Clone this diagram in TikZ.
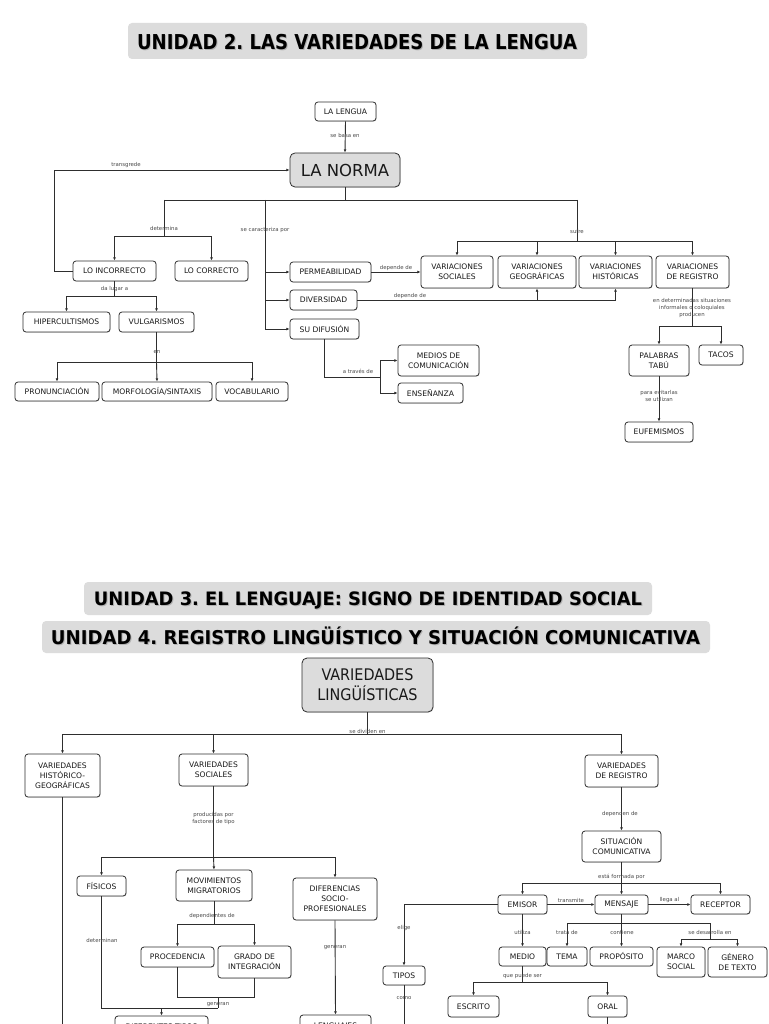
\documentclass[tikz,border=0pt]{standalone}
\usepackage{fontspec}
\setmainfont{DejaVu Sans}
\newfontfamily\condfont{DejaVu Sans Condensed}
\usetikzlibrary{arrows.meta,shadows}
\definecolor{boxfill}{HTML}{DCDCDC}
\definecolor{linec}{HTML}{2E2E2E}
\definecolor{labc}{HTML}{4A4A4A}
\frenchspacing
\tikzset{
  sz/.style 2 args={minimum width=#1pt, minimum height=#2pt},
  box/.style={draw=linec, line width=0.8pt, rounded corners=3pt, fill=white,
    align=center, inner sep=1pt, font=\fontsize{7.6}{10}\selectfont, text=black!90,
    drop shadow={shadow xshift=0.6pt, shadow yshift=-0.6pt, fill=black!35}},
  bigbox/.style={box, fill=boxfill, rounded corners=5pt},
  conn/.style={draw=linec, line width=0.9pt},
  arr/.style={conn, -{Latex[length=3.2pt,width=2.8pt]}},
  lab/.style={font=\fontsize{5.4}{7}\selectfont, text=labc, align=center, inner sep=0pt},
  titlebox/.style={fill=boxfill, rounded corners=4pt},
}
\newcommand{\mytitle}[6]{%
  \node[anchor=base, inner sep=0pt, text=black!30, font=\fontsize{#4}{#4}\selectfont\bfseries] (#6s) at (#1+1,#2+1) {\resizebox{#3pt}{\height}{#5}};
  \node[anchor=base, inner sep=0pt, text=black, font=\fontsize{#4}{#4}\selectfont\bfseries] (#6) at (#1,#2) {\resizebox{#3pt}{\height}{#5}};}
\begin{document}
\frenchspacing
\begin{tikzpicture}[x=1pt,y=-1pt]
\useasboundingbox (0,0) rectangle (768,1024);
\clip (0,0) rectangle (768,1024);
\fill[white] (0,0) rectangle (768,1024);

% ---------- titles ----------
\fill[titlebox] (128,23) rectangle (587,59);
\mytitle{357}{50}{440}{20.5}{UNIDAD 2. LAS VARIEDADES DE LA LENGUA}{tdos}
\fill[titlebox] (84,582) rectangle (652,615);
\mytitle{368}{605}{548}{18.5}{UNIDAD 3. EL LENGUAJE: SIGNO DE IDENTIDAD SOCIAL}{ttres}
\fill[titlebox] (42,621) rectangle (710,653);
\mytitle{375.5}{644}{649}{19}{UNIDAD 4. REGISTRO LINGÜÍSTICO Y SITUACIÓN COMUNICATIVA}{tcuatro}

% ---------- top map nodes ----------
\node[box, sz={61}{19}] (lengua) at (345.5,111.5) {LA LENGUA};
\node[bigbox, sz={110}{34}, font=\fontsize{16.5}{18}\selectfont] (norma) at (345,170) {LA NORMA};
\node[box, sz={83}{20}] (incorrecto) at (114.5,271) {LO INCORRECTO};
\node[box, sz={73}{20}] (correcto) at (211.5,271) {LO CORRECTO};
\node[box, sz={87}{20}] (hiper) at (66.5,322) {HIPERCULTISMOS};
\node[box, sz={75}{20}] (vulgar) at (156.5,322) {VULGARISMOS};
\node[box, sz={84}{19}] (pron) at (57,391.5) {PRONUNCIACIÓN};
\node[box, sz={110}{19}] (morf) at (157,391.5) {MORFOLOGÍA/SINTAXIS};
\node[box, sz={72}{19}] (vocab) at (252,391.5) {VOCABULARIO};
\node[box, sz={81}{20}] (perm) at (330.5,272) {PERMEABILIDAD};
\node[box, sz={67}{20}] (divers) at (323.5,300) {DIVERSIDAD};
\node[box, sz={69}{20}] (difus) at (324.5,329) {SU DIFUSIÓN};
\node[box, sz={72}{32}] (vsoc) at (457,272) {VARIACIONES\\SOCIALES};
\node[box, sz={78}{32}] (vgeo) at (537,272) {VARIACIONES\\GEOGRÁFICAS};
\node[box, sz={73}{32}] (vhist) at (615.5,272) {VARIACIONES\\HISTÓRICAS};
\node[box, sz={73}{32}] (vreg) at (692.5,272) {VARIACIONES\\DE REGISTRO};
\node[box, sz={81}{31}] (medios) at (438.5,360.5) {MEDIOS DE\\COMUNICACIÓN};
\node[box, sz={65}{20}] (ense) at (430.5,393) {ENSEÑANZA};
\node[box, sz={60}{31}] (tabu) at (659,360.5) {PALABRAS\\TABÚ};
\node[box, sz={44}{20}] (tacos) at (721,355) {TACOS};
\node[box, sz={68}{20}] (eufem) at (659,432) {EUFEMISMOS};

% ---------- top map junctions ----------
\coordinate (jn) at (345,200);
\coordinate (jdet) at (164,200);
\coordinate (jcar) at (265,200);
\coordinate (jsuf) at (577,200);
\coordinate (jdet2) at (164,236);
\coordinate (jsuf2) at (577,241);
\coordinate (jcar2) at (265,329);
\coordinate (jtrans) at (54,271);
\coordinate (jlug) at (114.5,296);
\coordinate (jen) at (156.5,362);
\coordinate (jdif) at (324.5,377);
\coordinate (jtra) at (380,377);
\coordinate (jtra1) at (380,360.5);
\coordinate (jtra2) at (380,393);
\coordinate (jreg) at (692.5,326);

% ---------- top map connectors ----------
\draw[arr] (lengua.south) -- (norma.north);
\node[lab] (l1) at (345,135) {se basa en};
\draw[conn] (norma.south) -- (jn);
\draw[conn] (jdet) -- (jsuf);
\draw[conn] (jdet) -- (jdet2);
\draw[arr] (jdet2) -| (incorrecto.north);
\draw[arr] (jdet2) -| (correcto.north);
\node[lab] (l2) at (164,228) {determina};
\draw[arr] (incorrecto.west) -- (jtrans) |- (norma.west);
\node[lab] (l3) at (126,165) {transgrede};
\draw[conn] (jsuf) -- (jsuf2);
\draw[arr] (jsuf2) -| (vsoc.north);
\draw[arr] (jsuf2) -| (vgeo.north);
\draw[arr] (jsuf2) -| (vhist.north);
\draw[arr] (jsuf2) -| (vreg.north);
\node[lab] (l4) at (577,231) {sufre};
\draw[conn] (jcar) -- (jcar2);
\draw[arr] (jcar |- perm.west) -- (perm.west);
\draw[arr] (jcar |- divers.west) -- (divers.west);
\draw[arr] (jcar2) -- (difus.west);
\node[lab] (l5) at (265,230) {se caracteriza por};
\draw[arr] (perm.east) -- node[lab, above=1pt] (l6) {depende de} (vsoc.west);
\draw[conn] (divers.east) -- (vhist.south |- divers.east);
\draw[arr] (vgeo.south |- divers.east) -- (vgeo.south);
\draw[arr] (vhist.south |- divers.east) -- (vhist.south);
\node[lab] (l7) at (410,296) {depende de};
\draw[conn] (incorrecto.south) -- (jlug);
\draw[arr] (jlug) -| (hiper.north);
\draw[arr] (jlug) -| (vulgar.north);
\node[lab] (l8) at (114.5,289) {da lugar a};
\draw[conn] (vulgar.south) -- (jen);
\draw[arr] (jen) -| (pron.north);
\draw[arr] (jen) -- (morf.north);
\draw[arr] (jen) -| (vocab.north);
\node[lab] (l9) at (157,352) {en};
\draw[conn] (difus.south) -- (jdif) -- (jtra);
\draw[conn] (jtra1) -- (jtra2);
\draw[arr] (jtra1) -- (medios.west);
\draw[arr] (jtra2) -- (ense.west);
\node[lab] (l10) at (358,371) {a través de};
\draw[conn] (vreg.south) -- (jreg);
\draw[arr] (jreg) -| (tabu.north);
\draw[arr] (jreg) -| (tacos.north);
\node[lab] (l11) at (692,308) {en determinadas situaciones\\informales o coloquiales\\producen};
\draw[arr] (tabu.south) -- (eufem.north);
\node[lab] (l12) at (659,396) {para evitarlas\\se utilizan};

% ---------- bottom map nodes ----------
\node[bigbox, sz={131}{54}, font=\condfont\fontsize{16}{20}\selectfont] (vling) at (367.5,685) {VARIEDADES\\LINGÜÍSTICAS};
\node[box, sz={75}{43}] (hgeo) at (62.5,775.5) {VARIEDADES\\HISTÓRICO-\\GEOGRÁFICAS};
\node[box, sz={69}{32}] (vsocb) at (213.5,770) {VARIEDADES\\SOCIALES};
\node[box, sz={73}{32}] (vregb) at (621.5,771) {VARIEDADES\\DE REGISTRO};
\node[box, sz={49}{20}] (fisicos) at (101.5,886) {FÍSICOS};
\node[box, sz={76}{31}] (movim) at (214,885.5) {MOVIMIENTOS\\MIGRATORIOS};
\node[box, sz={84}{42}] (difer) at (335,899) {DIFERENCIAS\\SOCIO-\\PROFESIONALES};
\node[box, sz={73}{20}] (proced) at (177.5,957) {PROCEDENCIA};
\node[box, sz={73}{32}] (grado) at (254.5,962) {GRADO DE\\INTEGRACIÓN};
\node[box, sz={93}{22}] (dtipos) at (161.5,1027) {DIFERENTES TIPOS};
\node[box, sz={71}{22}] (lenguajes) at (335.5,1026) {LENGUAJES};
\node[box, sz={79}{31}] (sitcom) at (621.5,846.5) {SITUACIÓN\\COMUNICATIVA};
\node[box, sz={49}{19}] (emisor) at (522.5,904.5) {EMISOR};
\node[box, sz={53}{19}] (mensaje) at (621.5,904.5) {MENSAJE};
\node[box, sz={59}{19}] (receptor) at (720.5,904.5) {RECEPTOR};
\node[box, sz={42}{19}] (tipos) at (404,975.5) {TIPOS};
\node[box, sz={47}{19}] (medio) at (522.5,956.5) {MEDIO};
\node[box, sz={40}{19}] (tema) at (567,956.5) {TEMA};
\node[box, sz={63}{19}] (proposito) at (621.5,956.5) {PROPÓSITO};
\node[box, sz={48}{30}] (marco) at (681,962) {MARCO\\SOCIAL};
\node[box, sz={59}{30}] (genero) at (737.5,962) {GÉNERO\\DE TEXTO};
\node[box, sz={51}{21}] (escrito) at (473.5,1006.5) {ESCRITO};
\node[box, sz={39}{21}] (oral) at (607.5,1006.5) {ORAL};

% ---------- bottom junctions ----------
\coordinate (jdiv) at (367.5,734);
\coordinate (jdivl) at (62.5,734);
\coordinate (jdivr) at (621.5,734);
\coordinate (jhgeo) at (62.5,1040);
\coordinate (jfac) at (213.5,857);
\coordinate (jdep) at (214,924);
\coordinate (jbr1) at (177.5,997);
\coordinate (jbr2) at (254.5,997);
\coordinate (jbrm) at (218,997);
\coordinate (jgen) at (218,1008);
\coordinate (jfis) at (101.5,1008);
\coordinate (jtip) at (161.5,1008);
\coordinate (jforml) at (522.5,883);
\coordinate (jformr) at (720.5,883);
\coordinate (jtipos) at (404,1040);
\coordinate (jmedio) at (522.5,982);
\coordinate (joral) at (607.5,1040);
\coordinate (jmenl) at (567,923);
\coordinate (jmenr) at (710,923);
\coordinate (jdes) at (710,939);

% ---------- bottom connectors ----------
\draw[conn] (vling.south) -- (jdiv);
\draw[conn] (jdivl) -- (jdivr);
\draw[arr] (jdivl) -- (hgeo.north);
\draw[arr] (vsocb.north |- jdiv) -- (vsocb.north);
\draw[arr] (jdivr) -- (vregb.north);
\node[lab] (m1) at (367.5,731) {se dividen en};
\draw[conn] (hgeo.south) -- (jhgeo);
\draw[conn] (vsocb.south) -- (jfac);
\draw[arr] (jfac) -| (fisicos.north);
\draw[arr] (jfac) -- (movim.north);
\draw[arr] (jfac) -| (difer.north);
\node[lab] (m2) at (213.5,818) {producidas por\\factores de tipo};
\draw[conn] (movim.south) -- (jdep);
\draw[arr] (jdep) -| (proced.north);
\draw[arr] (jdep) -| (grado.north);
\node[lab] (m3) at (212,916) {dependientes de};
\draw[conn] (proced.south) -- (jbr1) -- (jbr2) -- (grado.south);
\draw[conn] (jbrm) -- (jgen);
\draw[conn] (fisicos.south) -- (jfis) -- (jgen);
\draw[arr] (jtip) -- (dtipos.north);
\node[lab] (m4) at (218,1005) {generan};
\node[lab] (m5) at (102,940) {determinan};
\draw[arr] (difer.south) -- (lenguajes.north);
\node[lab] (m6) at (335,948) {generan};
\draw[arr] (vregb.south) -- (sitcom.north);
\node[lab] (m7) at (620,814) {dependen de};
\draw[arr] (sitcom.south) -- (mensaje.north);
\draw[conn] (jforml) -- (jformr);
\draw[arr] (jforml) -- (emisor.north);
\draw[arr] (jformr) -- (receptor.north);
\node[lab] (m8) at (621.5,877) {está formada por};
\draw[arr] (emisor.east) -- node[lab, above=1.5pt] (m9) {transmite} (mensaje.west);
\draw[arr] (mensaje.east) -- node[lab, above=1.5pt] (m10) {llega al} (receptor.west);
\draw[arr] (emisor.west) -| (tipos.north);
\node[lab] (m11) at (404,928) {elige};
\draw[conn] (tipos.south) -- (jtipos);
\node[lab] (m12) at (404,998) {como};
\draw[arr] (emisor.south) -- (medio.north);
\node[lab] (m13) at (522.5,932) {utiliza};
\draw[conn] (medio.south) -- (jmedio);
\draw[arr] (jmedio) -| (escrito.north);
\draw[arr] (jmedio) -| (oral.north);
\node[lab] (m14) at (522.5,976) {que puede ser};
\draw[conn] (oral.south) -- (joral);
\draw[arr] (mensaje.south) -- (proposito.north);
\draw[conn] (jmenl) -- (jmenr);
\draw[arr] (jmenl) -- (tema.north);
\draw[conn] (jmenr) -- (jdes);
\draw[arr] (jdes) -| (marco.north);
\draw[arr] (jdes) -| (genero.north);
\node[lab] (m15) at (567,932) {trata de};
\node[lab] (m16) at (622,932) {contiene};
\node[lab] (m17) at (710,932) {se desarrolla en};
\end{tikzpicture}
\end{document}
